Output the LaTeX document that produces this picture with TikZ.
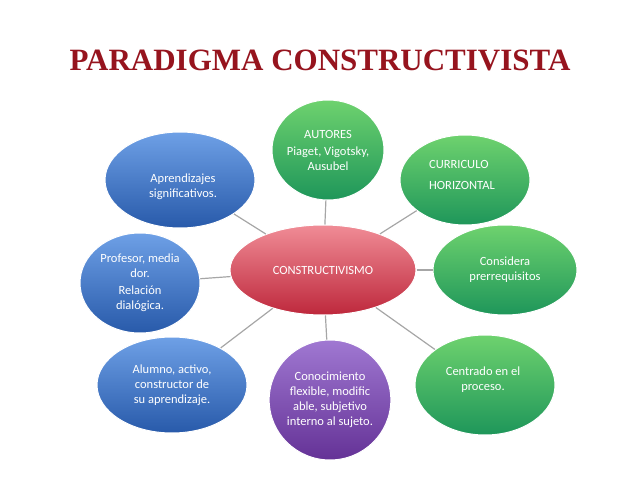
\documentclass[tikz,border=0pt]{standalone}
\usepackage{fontspec}
\setmainfont{Carlito}
\newfontfamily\titlefont{Liberation Serif}
\usetikzlibrary{shapes.geometric}
\definecolor{gA}{RGB}{110,210,110}\definecolor{gB}{RGB}{30,150,90}
\definecolor{bA}{RGB}{110,160,230}\definecolor{bB}{RGB}{40,90,170}
\definecolor{pA}{RGB}{160,120,210}\definecolor{pB}{RGB}{100,50,150}
\definecolor{rA}{RGB}{240,140,150}\definecolor{rB}{RGB}{190,40,60}
\definecolor{ttl}{RGB}{150,20,30}
\tikzset{
 bub/.style={ellipse,draw=white,line width=1pt,text=white,align=center,font=\fontsize{12.5}{15}\selectfont,inner sep=0pt},
 grn/.style={bub,top color=gA,bottom color=gB},
 blu/.style={bub,top color=bA,bottom color=bB},
 pur/.style={bub,top color=pA,bottom color=pB},
 red/.style={bub,top color=rA,bottom color=rB},
 con/.style={draw=gray!70,line width=1.2pt}
}
\begin{document}
\begin{tikzpicture}[x=1pt,y=-1pt]
\useasboundingbox (0,0) rectangle (638,479);
\node[text=ttl,font=\titlefont\bfseries\fontsize{31}{36}\selectfont] (t) at (320,60) {PARADIGMA CONSTRUCTIVISTA};
\node[red,minimum width=186,minimum height=90] (c) at (323,270) {CONSTRUCTIVISMO};
\node[grn,minimum width=112,minimum height=100] (a) at (328,150) {};
\node[text=white,align=center,font=\fontsize{12.5}{15}\selectfont] at (328,150) {AUTORES\\[2pt]Piaget, Vigotsky,\\Ausubel};
\node[grn,minimum width=130,minimum height=90] (b) at (465,180) {};
\node[text=white,align=left,font=\fontsize{12.5}{15}\selectfont] at (462,175) {CURRICULO\\[6pt]HORIZONTAL};
\node[grn,minimum width=144,minimum height=90] (d) at (505,270) {Considera\\prerrequisitos};
\node[grn,minimum width=140,minimum height=100] (e) at (485,385) {};
\node[text=white,align=center,font=\fontsize{12.5}{15}\selectfont] at (483,380) {Centrado en el\\proceso.};
\node[pur,minimum width=120,minimum height=120] (f) at (330,400) {Conocimiento\\flexible, modific\\able, subjetivo\\interno al sujeto.};
\node[blu,minimum width=150,minimum height=96] (g) at (172,385) {Alumno, activo,\\constructor de\\su aprendizaje.};
\node[blu,minimum width=120,minimum height=100] (h) at (140,283) {Profesor, media\\dor.\\[2pt]Relación\\dialógica.};
\node[blu,minimum width=150,minimum height=96] (i) at (180,180) {};
\node[text=white,align=center,font=\fontsize{12.5}{15}\selectfont] at (183,187) {Aprendizajes\\significativos.};
\foreach \n in {a,b,d,e,f,g,h,i} \draw[con] (c) -- (\n);
\end{tikzpicture}
\end{document}
